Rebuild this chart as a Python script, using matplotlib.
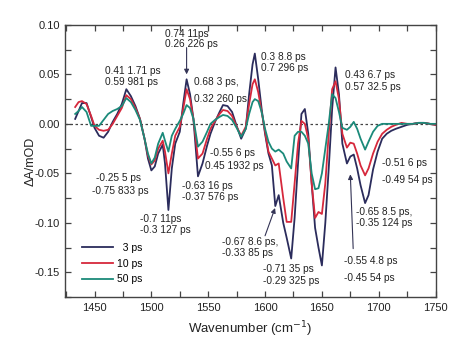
import matplotlib
matplotlib.use("Agg")
import matplotlib.pyplot as plt
from matplotlib.ticker import MultipleLocator, FormatStrFormatter

plt.rcParams["font.family"] = ["Liberation Sans", "DejaVu Sans"]
plt.rcParams["axes.unicode_minus"] = False

# wavenumber grid (cm-1) shared by the three delay traces
wavenumber = [1433, 1436, 1439, 1443, 1447, 1450, 1454, 1458, 1462, 1466,
              1470, 1474, 1478, 1482, 1486, 1490, 1494, 1497, 1500, 1503,
              1506, 1510, 1512, 1515, 1518, 1521, 1525, 1528, 1531, 1534,
              1537, 1541, 1545, 1549, 1552, 1556, 1560, 1563, 1567, 1571,
              1575, 1579, 1583, 1586, 1589, 1591, 1594, 1597, 1600, 1603,
              1606, 1609, 1612, 1616, 1619, 1623, 1626, 1629, 1632, 1635,
              1638, 1641, 1644, 1647, 1650, 1653, 1656, 1659, 1662, 1665,
              1668, 1672, 1675, 1678, 1681, 1684, 1688, 1691, 1695, 1699,
              1703, 1707, 1711, 1715, 1720, 1725, 1730, 1735, 1740, 1745, 1750]

da_3ps = [0.005, 0.013, 0.021, 0.021, 0.007, -0.004, -0.012, -0.014, -0.008, 0.002,
          0.010, 0.020, 0.035, 0.028, 0.018, 0.005, -0.015, -0.035, -0.047, -0.043,
          -0.030, -0.021, -0.040, -0.087, -0.045, -0.020, -0.008, 0.020, 0.045, 0.030,
          0.005, -0.053, -0.040, -0.022, -0.010, 0.002, 0.012, 0.019, 0.018, 0.012,
          -0.002, -0.015, -0.005, 0.030, 0.060, 0.071, 0.045, 0.015, -0.010, -0.030,
          -0.042, -0.083, -0.072, -0.100, -0.115, -0.136, -0.095, -0.040, 0.010, 0.015,
          -0.010, -0.060, -0.105, -0.125, -0.143, -0.100, -0.045, 0.015, 0.057, 0.030,
          -0.020, -0.040, -0.033, -0.031, -0.045, -0.062, -0.080, -0.072, -0.046, -0.028,
          -0.015, -0.010, -0.007, -0.005, -0.003, -0.001, 0.000, 0.001, 0.001, 0.000, -0.001]

da_10ps = [0.017, 0.022, 0.023, 0.020, 0.008, -0.002, -0.006, -0.007, -0.006, 0.000,
           0.008, 0.016, 0.029, 0.025, 0.016, 0.005, -0.015, -0.032, -0.041, -0.037,
           -0.025, -0.017, -0.028, -0.050, -0.030, -0.012, -0.003, 0.015, 0.035, 0.025,
           0.005, -0.035, -0.030, -0.015, -0.005, 0.003, 0.010, 0.014, 0.013, 0.008,
           -0.003, -0.012, -0.003, 0.020, 0.040, 0.045, 0.032, 0.012, -0.008, -0.028,
           -0.035, -0.042, -0.040, -0.075, -0.099, -0.099, -0.060, -0.020, 0.003, 0.000,
           -0.015, -0.060, -0.095, -0.089, -0.091, -0.060, -0.010, 0.035, 0.043, 0.025,
           -0.010, -0.024, -0.019, -0.020, -0.030, -0.042, -0.052, -0.045, -0.030, -0.018,
           -0.010, -0.006, -0.003, -0.001, 0.001, 0.000, 0.000, 0.001, 0.001, 0.000, -0.001]

da_50ps = [0.010, 0.013, 0.017, 0.012, -0.002, -0.002, -0.002, 0.004, 0.010, 0.013,
           0.015, 0.018, 0.026, 0.022, 0.014, 0.004, -0.015, -0.030, -0.040, -0.034,
           -0.020, -0.009, -0.017, -0.028, -0.012, -0.005, 0.003, 0.010, 0.019, 0.016,
           0.005, -0.023, -0.018, -0.008, 0.000, 0.004, 0.007, 0.009, 0.008, 0.004,
           -0.004, -0.013, -0.005, 0.010, 0.022, 0.025, 0.023, 0.012, -0.005, -0.018,
           -0.025, -0.028, -0.026, -0.030, -0.038, -0.045, -0.012, -0.008, -0.008, -0.012,
           -0.020, -0.050, -0.066, -0.065, -0.050, -0.025, 0.000, 0.030, 0.026, 0.012,
           -0.004, -0.006, -0.003, 0.002, -0.005, -0.015, -0.026, -0.018, -0.008, -0.002,
           0.000, 0.000, 0.000, 0.000, 0.000, 0.000, 0.000, 0.001, 0.001, 0.000, 0.000]

series = [("  3 ps", da_3ps, "#2b2c5c"),
          ("10 ps", da_10ps, "#d6283c"),
          ("50 ps", da_50ps, "#1b8a7a")]

# amplitude / lifetime notes: (text, x, y) in data coords, left edge, v-centre
notes = [
    ("0.74 11ps", 1512.4, 0.0909), ("0.26 226 ps", 1512.4, 0.0805),
    ("0.41 1.71 ps", 1458.8, 0.0530), ("0.59 981 ps", 1458.8, 0.0420),
    ("0.68 3 ps,", 1537.6, 0.0418), ("0.32 260 ps", 1537.6, 0.0250),
    ("0.3 8.8 ps", 1596.2, 0.0680), ("0.7 296 ps", 1596.2, 0.0566),
    ("0.43 6.7 ps", 1670.6, 0.0495), ("0.57 32.5 ps", 1670.6, 0.0377),
    ("-0.25 5 ps", 1451.5, -0.0545), ("-0.75 833 ps", 1448.0, -0.0677),
    ("-0.7 11ps", 1490.3, -0.0963), ("-0.3 127 ps", 1490.3, -0.1077),
    ("-0.63 16 ps", 1527.0, -0.0623), ("-0.37 576 ps", 1527.0, -0.0737),
    ("-0.55 6 ps", 1551.5, -0.0290), ("0.45 1932 ps", 1547.0, -0.0424),
    ("-0.67 8.6 ps,", 1561.8, -0.1189), ("-0.33 85 ps", 1561.8, -0.1300),
    ("-0.71 35 ps", 1598.5, -0.1465), ("-0.29 325 ps", 1598.5, -0.1582),
    ("-0.51 6 ps", 1703.0, -0.0397), ("-0.49 54 ps", 1703.0, -0.0566),
    ("-0.65 8.5 ps,", 1680.3, -0.0892), ("-0.35 124 ps", 1680.3, -0.1003),
    ("-0.55 4.8 ps", 1669.0, -0.1384), ("-0.45 54 ps", 1669.0, -0.1552),
]

# arrows: (tail, head)
arrows = [((1531, 0.077), (1531, 0.050)),
          ((1600, -0.113), (1608.8, -0.085)),
          ((1677.5, -0.126), (1675, -0.051))]

fig = plt.figure(figsize=(4.74, 3.55), dpi=100)
ax = fig.add_axes([0.137, 0.163, 0.782, 0.767])

ax.axhline(0, color="#444444", lw=0.9, ls=(0, (2, 2)))
for name, vals, col in series:
    ax.plot(wavenumber, vals, color=col, lw=1.3, label=name)

for txt, x, y in notes:
    ax.text(x, y, txt, fontsize=7.3, ha="left", va="center", color="#222222")

for tail, head in arrows:
    ax.annotate("", xy=head, xytext=tail,
                arrowprops=dict(arrowstyle="-|>", color="#333355", lw=0.8,
                                mutation_scale=7, shrinkA=0, shrinkB=0))

ax.set_xlim(1424, 1750)
ax.set_ylim(-0.175, 0.10)
ax.xaxis.set_major_locator(MultipleLocator(50))
ax.xaxis.set_minor_locator(MultipleLocator(25))
ax.yaxis.set_major_locator(MultipleLocator(0.05))
ax.yaxis.set_minor_locator(MultipleLocator(0.025))
ax.yaxis.set_major_formatter(FormatStrFormatter("%.2f"))
ax.tick_params(which="both", direction="in", top=True, right=True,
               length=4, width=0.9, color="#444444", labelsize=8,
               labelcolor="#222222")
ax.tick_params(axis="x", pad=4)
for sp in ax.spines.values():
    sp.set_color("#444444")
    sp.set_linewidth(1.0)

ax.set_xlabel("Wavenumber (cm$^{-1}$)", fontsize=9.5, labelpad=5, color="#222222")
ax.set_ylabel("ΔA/mOD", fontsize=9, labelpad=-1, color="#222222")

ax.legend(loc="lower left", bbox_to_anchor=(0.02, 0.012), frameon=False,
          fontsize=7.5, handlelength=3.0, handletextpad=0.4, labelspacing=0.55)

fig.savefig("out.png", dpi=100)
